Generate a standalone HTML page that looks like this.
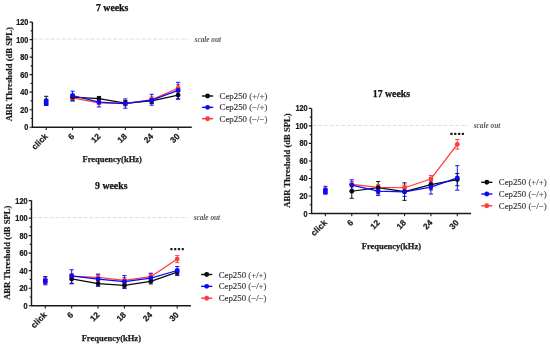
<!DOCTYPE html>
<html><head><meta charset="utf-8"><style>
html,body{margin:0;padding:0;background:#fff;width:550px;height:346px;overflow:hidden}
svg{display:block;will-change:transform}
.ttl{font-family:"Liberation Serif",serif;font-weight:bold;font-size:9.8px;fill:#111;stroke:#111;stroke-width:0.25px}
.ylab{font-family:"Liberation Serif",serif;font-weight:bold;font-size:8.65px;fill:#1a1a1a;stroke:#1a1a1a;stroke-width:0.2px}
.xlab{font-family:"Liberation Serif",serif;font-weight:bold;font-size:8.5px;fill:#1a1a1a;stroke:#1a1a1a;stroke-width:0.25px}
.tl{font-family:"Liberation Sans",sans-serif;font-weight:bold;font-size:8.3px;fill:#1a1a1a;stroke:#1a1a1a;stroke-width:0.25px}
.xt{font-family:"Liberation Sans",sans-serif;font-weight:bold;font-size:8.4px;fill:#1a1a1a;stroke:#1a1a1a;stroke-width:0.25px}
.lg{font-family:"Liberation Serif",serif;font-size:8.8px;fill:#333;stroke:#333;stroke-width:0.15px}
.lp{fill:#4a4a4a;stroke:#4a4a4a}
.so{font-family:"Liberation Serif",serif;font-style:italic;font-weight:bold;font-size:7.25px;fill:#555}
.axis{fill:none;stroke:#1a1a1a;stroke-width:1.4}
.tick{fill:none;stroke:#1a1a1a;stroke-width:1.1}
.dash{stroke:#d6d6d6;stroke-width:0.8;stroke-dasharray:4 1.7}
</style></head><body>
<svg width="550" height="346" viewBox="0 0 550 346">
<g><text x="112.2" y="10.7" text-anchor="middle" class="ttl">7 weeks</text>
<text transform="translate(11.6,74.2) rotate(-90)" text-anchor="middle" class="ylab">ABR Threshold (dB SPL)</text>
<text x="112.2" y="162.2" text-anchor="middle" class="xlab">Frequency(kHz)</text>
<line x1="33.4" y1="39.1" x2="188.9" y2="39.1" class="dash"/>
<text x="194.6" y="41.6" class="so">scale out</text>
<path d="M32.4 22.08V127.2H191.8" class="axis"/>
<path d="M32.4 127.2h-2.8M32.4 118.44h-1.8M32.4 109.68h-2.8M32.4 100.92h-1.8M32.4 92.16h-2.8M32.4 83.4h-1.8M32.4 74.64h-2.8M32.4 65.88h-1.8M32.4 57.12h-2.8M32.4 48.36h-1.8M32.4 39.6h-2.8M32.4 30.84h-1.8M32.4 22.08h-2.8M46.2 127.2v2.8M72.58 127.2v2.8M98.96 127.2v2.8M125.34 127.2v2.8M151.72 127.2v2.8M178.1 127.2v2.8" class="tick"/>
<text transform="translate(28.4,130.2) scale(0.88,1)" text-anchor="end" class="tl">0</text>
<text transform="translate(28.4,112.68) scale(0.88,1)" text-anchor="end" class="tl">20</text>
<text transform="translate(28.4,95.16) scale(0.88,1)" text-anchor="end" class="tl">40</text>
<text transform="translate(28.4,77.64) scale(0.88,1)" text-anchor="end" class="tl">60</text>
<text transform="translate(28.4,60.12) scale(0.88,1)" text-anchor="end" class="tl">80</text>
<text transform="translate(28.4,42.6) scale(0.88,1)" text-anchor="end" class="tl">100</text>
<text transform="translate(28.4,25.08) scale(0.88,1)" text-anchor="end" class="tl">120</text>
<text transform="translate(48.3,137) rotate(-45)" text-anchor="end" class="xt">click</text>
<text transform="translate(74.68,137) rotate(-45)" text-anchor="end" class="xt">6</text>
<text transform="translate(101.06,137) rotate(-45)" text-anchor="end" class="xt">12</text>
<text transform="translate(127.44,137) rotate(-45)" text-anchor="end" class="xt">18</text>
<text transform="translate(153.82,137) rotate(-45)" text-anchor="end" class="xt">24</text>
<text transform="translate(180.2,137) rotate(-45)" text-anchor="end" class="xt">30</text>
<path d="M72.58 94.53V100.66M70.48 94.53h4.2M70.48 100.66h4.2M98.96 96.45V101.36M96.86 96.45h4.2M96.86 101.36h4.2M125.34 100.48V105.74M123.24 100.48h4.2M123.24 105.74h4.2M151.72 98.29V103.55M149.62 98.29h4.2M149.62 103.55h4.2M178.1 91.55V98.99M176 91.55h4.2M176 98.99h4.2M46.2 96.3V105.5M44.1 96.3h4.2M44.1 105.5h4.2" fill="none" stroke="#0a0a0a" stroke-width="0.95"/>
<path d="M72.58 96.01V99.52M70.48 96.01h4.2M70.48 99.52h4.2M98.96 101.1V104.6M96.86 101.1h4.2M96.86 104.6h4.2M125.34 101.8V105.3M123.24 101.8h4.2M123.24 105.3h4.2M151.72 96.98V102.23M149.62 96.98h4.2M149.62 102.23h4.2M178.1 84.71V91.72M176 84.71h4.2M176 91.72h4.2" fill="none" stroke="#ff3a3a" stroke-width="0.95"/>
<path d="M72.58 91.2V101.01M70.48 91.2h4.2M70.48 101.01h4.2M98.96 97.5V106.96M96.86 97.5h4.2M96.86 106.96h4.2M125.34 98.91V108.19M123.24 98.91h4.2M123.24 108.19h4.2M151.72 94.35V105.21M149.62 94.35h4.2M149.62 105.21h4.2M178.1 82.35V99.17M176 82.35h4.2M176 99.17h4.2" fill="none" stroke="#0a0af5" stroke-width="0.95"/>
<polyline points="72.58,97.15 98.96,98.73 125.34,103.11 151.72,100.92 178.1,95.05" fill="none" stroke="#0a0a0a" stroke-width="1.25" stroke-linejoin="round"/>
<polyline points="72.58,97.77 98.96,102.85 125.34,103.55 151.72,99.61 178.1,88.22" fill="none" stroke="#ff3a3a" stroke-width="1.25" stroke-linejoin="round"/>
<polyline points="72.58,95.49 98.96,102.23 125.34,103.55 151.72,100.13 178.1,90.41" fill="none" stroke="#0a0af5" stroke-width="1.25" stroke-linejoin="round"/>
<circle cx="72.58" cy="97.77" r="2.4" fill="#ff3a3a"/>
<circle cx="98.96" cy="102.85" r="2.4" fill="#ff3a3a"/>
<circle cx="125.34" cy="103.55" r="2.4" fill="#ff3a3a"/>
<circle cx="151.72" cy="99.61" r="2.4" fill="#ff3a3a"/>
<circle cx="178.1" cy="88.22" r="2.4" fill="#ff3a3a"/>
<circle cx="72.58" cy="97.15" r="2.4" fill="#0a0a0a"/>
<circle cx="98.96" cy="98.73" r="2.4" fill="#0a0a0a"/>
<circle cx="125.34" cy="103.11" r="2.4" fill="#0a0a0a"/>
<circle cx="151.72" cy="100.92" r="2.4" fill="#0a0a0a"/>
<circle cx="178.1" cy="95.05" r="2.4" fill="#0a0a0a"/>
<circle cx="72.58" cy="95.49" r="2.4" fill="#0a0af5"/>
<circle cx="98.96" cy="102.23" r="2.4" fill="#0a0af5"/>
<circle cx="125.34" cy="103.55" r="2.4" fill="#0a0af5"/>
<circle cx="151.72" cy="100.13" r="2.4" fill="#0a0af5"/>
<circle cx="178.1" cy="90.41" r="2.4" fill="#0a0af5"/>
<rect x="43.85" y="98.6" width="4.7" height="7.3" rx="1.3" fill="#0a0af5"/>
<line x1="202" y1="96" x2="213.2" y2="96" stroke="#0a0a0a" stroke-width="1.4"/>
<circle cx="207.6" cy="96" r="2.45" fill="#0a0a0a"/>
<text x="219.6" y="99" class="lg">Cep250 <tspan class="lp">(+/+)</tspan></text>
<line x1="202" y1="107.35" x2="213.2" y2="107.35" stroke="#0a0af5" stroke-width="1.4"/>
<circle cx="207.6" cy="107.35" r="2.45" fill="#0a0af5"/>
<text x="219.6" y="110.35" class="lg">Cep250 <tspan class="lp">(−/+)</tspan></text>
<line x1="202" y1="118.7" x2="213.2" y2="118.7" stroke="#ff3a3a" stroke-width="1.4"/>
<circle cx="207.6" cy="118.7" r="2.45" fill="#ff3a3a"/>
<text x="219.6" y="121.7" class="lg">Cep250 <tspan class="lp">(−/−)</tspan></text></g>
<g><text x="111.3" y="189.2" text-anchor="middle" class="ttl">9 weeks</text>
<text transform="translate(10.2,252.7) rotate(-90)" text-anchor="middle" class="ylab">ABR Threshold (dB SPL)</text>
<text x="111.3" y="340.7" text-anchor="middle" class="xlab">Frequency(kHz)</text>
<line x1="32.5" y1="217.6" x2="188" y2="217.6" class="dash"/>
<text x="193.7" y="220.1" class="so">scale out</text>
<path d="M31.5 200.58V305.7H190.9" class="axis"/>
<path d="M31.5 305.7h-2.8M31.5 296.94h-1.8M31.5 288.18h-2.8M31.5 279.42h-1.8M31.5 270.66h-2.8M31.5 261.9h-1.8M31.5 253.14h-2.8M31.5 244.38h-1.8M31.5 235.62h-2.8M31.5 226.86h-1.8M31.5 218.1h-2.8M31.5 209.34h-1.8M31.5 200.58h-2.8M45.3 305.7v2.8M71.68 305.7v2.8M98.06 305.7v2.8M124.44 305.7v2.8M150.82 305.7v2.8M177.2 305.7v2.8" class="tick"/>
<text transform="translate(27.5,308.7) scale(0.88,1)" text-anchor="end" class="tl">0</text>
<text transform="translate(27.5,291.18) scale(0.88,1)" text-anchor="end" class="tl">20</text>
<text transform="translate(27.5,273.66) scale(0.88,1)" text-anchor="end" class="tl">40</text>
<text transform="translate(27.5,256.14) scale(0.88,1)" text-anchor="end" class="tl">60</text>
<text transform="translate(27.5,238.62) scale(0.88,1)" text-anchor="end" class="tl">80</text>
<text transform="translate(27.5,221.1) scale(0.88,1)" text-anchor="end" class="tl">100</text>
<text transform="translate(27.5,203.58) scale(0.88,1)" text-anchor="end" class="tl">120</text>
<text transform="translate(47.4,315.5) rotate(-45)" text-anchor="end" class="xt">click</text>
<text transform="translate(73.78,315.5) rotate(-45)" text-anchor="end" class="xt">6</text>
<text transform="translate(100.16,315.5) rotate(-45)" text-anchor="end" class="xt">12</text>
<text transform="translate(126.54,315.5) rotate(-45)" text-anchor="end" class="xt">18</text>
<text transform="translate(152.92,315.5) rotate(-45)" text-anchor="end" class="xt">24</text>
<text transform="translate(179.3,315.5) rotate(-45)" text-anchor="end" class="xt">30</text>
<path d="M71.68 275.39V283.27M69.58 275.39h4.2M69.58 283.27h4.2M98.06 280.91V286.17M95.96 280.91h4.2M95.96 286.17h4.2M124.44 282.75V288M122.34 282.75h4.2M122.34 288h4.2M150.82 278.72V283.98M148.72 278.72h4.2M148.72 283.98h4.2M177.2 269.43V274.69M175.1 269.43h4.2M175.1 274.69h4.2M45.3 279.7V283.7M43.2 279.7h4.2M43.2 283.7h4.2" fill="none" stroke="#0a0a0a" stroke-width="0.95"/>
<path d="M71.68 273.64V278.89M69.58 273.64h4.2M69.58 278.89h4.2M98.06 274.86V280.12M95.96 274.86h4.2M95.96 280.12h4.2M124.44 277.67V282.92M122.34 277.67h4.2M122.34 282.92h4.2M150.82 274.08V279.33M148.72 274.08h4.2M148.72 279.33h4.2M177.2 255.59V262.6M175.1 255.59h4.2M175.1 262.6h4.2M45.3 277.6V283.4M43.2 277.6h4.2M43.2 283.4h4.2" fill="none" stroke="#ff3a3a" stroke-width="0.95"/>
<path d="M71.68 269.78V283.8M69.58 269.78h4.2M69.58 283.8h4.2M98.06 274.08V286.08M95.96 274.08h4.2M95.96 286.08h4.2M124.44 275.57V288.36M122.34 275.57h4.2M122.34 288.36h4.2M150.82 273.2V281.61M148.72 273.2h4.2M148.72 281.61h4.2M177.2 266.54V275.57M175.1 266.54h4.2M175.1 275.57h4.2M45.3 276.5V284.8M43.2 276.5h4.2M43.2 284.8h4.2" fill="none" stroke="#0a0af5" stroke-width="0.95"/>
<polyline points="71.68,278.89 98.06,283.54 124.44,285.38 150.82,281.35 177.2,272.06" fill="none" stroke="#0a0a0a" stroke-width="1.25" stroke-linejoin="round"/>
<polyline points="71.68,276.27 98.06,277.49 124.44,280.3 150.82,276.7 177.2,259.1" fill="none" stroke="#ff3a3a" stroke-width="1.25" stroke-linejoin="round"/>
<polyline points="71.68,275.92 98.06,279.07 124.44,281.7 150.82,278.11 177.2,270.48" fill="none" stroke="#0a0af5" stroke-width="1.25" stroke-linejoin="round"/>
<circle cx="71.68" cy="276.27" r="2.4" fill="#ff3a3a"/>
<circle cx="98.06" cy="277.49" r="2.4" fill="#ff3a3a"/>
<circle cx="124.44" cy="280.3" r="2.4" fill="#ff3a3a"/>
<circle cx="150.82" cy="276.7" r="2.4" fill="#ff3a3a"/>
<circle cx="177.2" cy="259.1" r="2.4" fill="#ff3a3a"/>
<circle cx="71.68" cy="278.89" r="2.4" fill="#0a0a0a"/>
<circle cx="98.06" cy="283.54" r="2.4" fill="#0a0a0a"/>
<circle cx="124.44" cy="285.38" r="2.4" fill="#0a0a0a"/>
<circle cx="150.82" cy="281.35" r="2.4" fill="#0a0a0a"/>
<circle cx="177.2" cy="272.06" r="2.4" fill="#0a0a0a"/>
<circle cx="71.68" cy="275.92" r="2.4" fill="#0a0af5"/>
<circle cx="98.06" cy="279.07" r="2.4" fill="#0a0af5"/>
<circle cx="124.44" cy="281.7" r="2.4" fill="#0a0af5"/>
<circle cx="150.82" cy="278.11" r="2.4" fill="#0a0af5"/>
<circle cx="177.2" cy="270.48" r="2.4" fill="#0a0af5"/>
<rect x="42.95" y="278.2" width="4.7" height="5.4" rx="1.3" fill="#0a0af5"/>
<rect x="170.3" y="248.04" width="2.2" height="2.1" rx="0.5" fill="#1a1a1a"/>
<rect x="174.1" y="248.04" width="2.2" height="2.1" rx="0.5" fill="#1a1a1a"/>
<rect x="177.9" y="248.04" width="2.2" height="2.1" rx="0.5" fill="#1a1a1a"/>
<rect x="181.7" y="248.04" width="2.2" height="2.1" rx="0.5" fill="#1a1a1a"/>
<line x1="201.1" y1="274.5" x2="212.3" y2="274.5" stroke="#0a0a0a" stroke-width="1.4"/>
<circle cx="206.7" cy="274.5" r="2.45" fill="#0a0a0a"/>
<text x="218.7" y="277.5" class="lg">Cep250 <tspan class="lp">(+/+)</tspan></text>
<line x1="201.1" y1="286.35" x2="212.3" y2="286.35" stroke="#0a0af5" stroke-width="1.4"/>
<circle cx="206.7" cy="286.35" r="2.45" fill="#0a0af5"/>
<text x="218.7" y="289.35" class="lg">Cep250 <tspan class="lp">(−/+)</tspan></text>
<line x1="201.1" y1="298.2" x2="212.3" y2="298.2" stroke="#ff3a3a" stroke-width="1.4"/>
<circle cx="206.7" cy="298.2" r="2.45" fill="#ff3a3a"/>
<text x="218.7" y="301.2" class="lg">Cep250 <tspan class="lp">(−/−)</tspan></text></g>
<g><text x="391.4" y="97" text-anchor="middle" class="ttl">17 weeks</text>
<text transform="translate(289.8,160.5) rotate(-90)" text-anchor="middle" class="ylab">ABR Threshold (dB SPL)</text>
<text x="391.4" y="248.5" text-anchor="middle" class="xlab">Frequency(kHz)</text>
<line x1="312.6" y1="125.4" x2="468.1" y2="125.4" class="dash"/>
<text x="473.8" y="127.9" class="so">scale out</text>
<path d="M311.6 108.38V213.5H471" class="axis"/>
<path d="M311.6 213.5h-2.8M311.6 204.74h-1.8M311.6 195.98h-2.8M311.6 187.22h-1.8M311.6 178.46h-2.8M311.6 169.7h-1.8M311.6 160.94h-2.8M311.6 152.18h-1.8M311.6 143.42h-2.8M311.6 134.66h-1.8M311.6 125.9h-2.8M311.6 117.14h-1.8M311.6 108.38h-2.8M325.4 213.5v2.8M351.78 213.5v2.8M378.16 213.5v2.8M404.54 213.5v2.8M430.92 213.5v2.8M457.3 213.5v2.8" class="tick"/>
<text transform="translate(307.6,216.5) scale(0.88,1)" text-anchor="end" class="tl">0</text>
<text transform="translate(307.6,198.98) scale(0.88,1)" text-anchor="end" class="tl">20</text>
<text transform="translate(307.6,181.46) scale(0.88,1)" text-anchor="end" class="tl">40</text>
<text transform="translate(307.6,163.94) scale(0.88,1)" text-anchor="end" class="tl">60</text>
<text transform="translate(307.6,146.42) scale(0.88,1)" text-anchor="end" class="tl">80</text>
<text transform="translate(307.6,128.9) scale(0.88,1)" text-anchor="end" class="tl">100</text>
<text transform="translate(307.6,111.38) scale(0.88,1)" text-anchor="end" class="tl">120</text>
<text transform="translate(327.5,223.3) rotate(-45)" text-anchor="end" class="xt">click</text>
<text transform="translate(353.88,223.3) rotate(-45)" text-anchor="end" class="xt">6</text>
<text transform="translate(380.26,223.3) rotate(-45)" text-anchor="end" class="xt">12</text>
<text transform="translate(406.64,223.3) rotate(-45)" text-anchor="end" class="xt">18</text>
<text transform="translate(433.02,223.3) rotate(-45)" text-anchor="end" class="xt">24</text>
<text transform="translate(459.4,223.3) rotate(-45)" text-anchor="end" class="xt">30</text>
<path d="M351.78 184.24V198.26M349.68 184.24h4.2M349.68 198.26h4.2M378.16 181.53V193.79M376.06 181.53h4.2M376.06 193.79h4.2M404.54 182.84V200.36M402.44 182.84h4.2M402.44 200.36h4.2M430.92 179.34V189.85M428.82 179.34h4.2M428.82 189.85h4.2M457.3 173.47V185.73M455.2 173.47h4.2M455.2 185.73h4.2" fill="none" stroke="#0a0a0a" stroke-width="0.95"/>
<path d="M351.78 181.7V186.96M349.68 181.7h4.2M349.68 186.96h4.2M378.16 184.68V189.94M376.06 184.68h4.2M376.06 189.94h4.2M404.54 185.12V190.37M402.44 185.12h4.2M402.44 190.37h4.2M430.92 175.48V182.49M428.82 175.48h4.2M428.82 182.49h4.2M457.3 139.48V149.11M455.2 139.48h4.2M455.2 149.11h4.2M325.4 187.8V193M323.3 187.8h4.2M323.3 193h4.2" fill="none" stroke="#ff3a3a" stroke-width="0.95"/>
<path d="M351.78 179.77V190.29M349.68 179.77h4.2M349.68 190.29h4.2M378.16 186.78V195.54M376.06 186.78h4.2M376.06 195.54h4.2M404.54 187.57V196.33M402.44 187.57h4.2M402.44 196.33h4.2M430.92 180.91V194.05M428.82 180.91h4.2M428.82 194.05h4.2M457.3 165.67V190.2M455.2 165.67h4.2M455.2 190.2h4.2M325.4 186.3V194.1M323.3 186.3h4.2M323.3 194.1h4.2" fill="none" stroke="#0a0af5" stroke-width="0.95"/>
<polyline points="351.78,191.25 378.16,187.66 404.54,191.6 430.92,184.59 457.3,179.6" fill="none" stroke="#0a0a0a" stroke-width="1.25" stroke-linejoin="round"/>
<polyline points="351.78,184.33 378.16,187.31 404.54,187.75 430.92,178.99 457.3,144.3" fill="none" stroke="#ff3a3a" stroke-width="1.25" stroke-linejoin="round"/>
<polyline points="351.78,185.03 378.16,191.16 404.54,191.95 430.92,187.04 457.3,177.93" fill="none" stroke="#0a0af5" stroke-width="1.25" stroke-linejoin="round"/>
<circle cx="351.78" cy="184.33" r="2.4" fill="#ff3a3a"/>
<circle cx="378.16" cy="187.31" r="2.4" fill="#ff3a3a"/>
<circle cx="404.54" cy="187.75" r="2.4" fill="#ff3a3a"/>
<circle cx="430.92" cy="178.99" r="2.4" fill="#ff3a3a"/>
<circle cx="457.3" cy="144.3" r="2.4" fill="#ff3a3a"/>
<circle cx="351.78" cy="191.25" r="2.4" fill="#0a0a0a"/>
<circle cx="378.16" cy="187.66" r="2.4" fill="#0a0a0a"/>
<circle cx="404.54" cy="191.6" r="2.4" fill="#0a0a0a"/>
<circle cx="430.92" cy="184.59" r="2.4" fill="#0a0a0a"/>
<circle cx="457.3" cy="179.6" r="2.4" fill="#0a0a0a"/>
<circle cx="351.78" cy="185.03" r="2.4" fill="#0a0af5"/>
<circle cx="378.16" cy="191.16" r="2.4" fill="#0a0af5"/>
<circle cx="404.54" cy="191.95" r="2.4" fill="#0a0af5"/>
<circle cx="430.92" cy="187.04" r="2.4" fill="#0a0af5"/>
<circle cx="457.3" cy="177.93" r="2.4" fill="#0a0af5"/>
<rect x="323.05" y="188" width="4.7" height="6.3" rx="1.3" fill="#0a0af5"/>
<rect x="450.4" y="132.83" width="2.2" height="2.1" rx="0.5" fill="#1a1a1a"/>
<rect x="454.2" y="132.83" width="2.2" height="2.1" rx="0.5" fill="#1a1a1a"/>
<rect x="458" y="132.83" width="2.2" height="2.1" rx="0.5" fill="#1a1a1a"/>
<rect x="461.8" y="132.83" width="2.2" height="2.1" rx="0.5" fill="#1a1a1a"/>
<line x1="481.2" y1="182.3" x2="492.4" y2="182.3" stroke="#0a0a0a" stroke-width="1.4"/>
<circle cx="486.8" cy="182.3" r="2.45" fill="#0a0a0a"/>
<text x="498.8" y="185.3" class="lg">Cep250 <tspan class="lp">(+/+)</tspan></text>
<line x1="481.2" y1="194.05" x2="492.4" y2="194.05" stroke="#0a0af5" stroke-width="1.4"/>
<circle cx="486.8" cy="194.05" r="2.45" fill="#0a0af5"/>
<text x="498.8" y="197.05" class="lg">Cep250 <tspan class="lp">(−/+)</tspan></text>
<line x1="481.2" y1="205.8" x2="492.4" y2="205.8" stroke="#ff3a3a" stroke-width="1.4"/>
<circle cx="486.8" cy="205.8" r="2.45" fill="#ff3a3a"/>
<text x="498.8" y="208.8" class="lg">Cep250 <tspan class="lp">(−/−)</tspan></text></g>
</svg>
</body></html>
